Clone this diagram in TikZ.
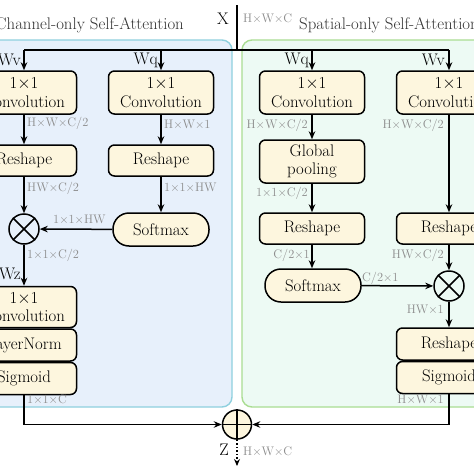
\documentclass[tikz,border=0pt]{standalone}
\usetikzlibrary{arrows.meta}
\definecolor{boxfill}{HTML}{FDF6DE}
\definecolor{bluefill}{HTML}{E7F0FB}
\definecolor{blueedge}{HTML}{8FD0DE}
\definecolor{greenfill}{HTML}{EDFAF4}
\definecolor{greenedge}{HTML}{AADD92}
\definecolor{dimgray}{HTML}{8C8C8C}
\definecolor{titlegray}{HTML}{333333}
\begin{document}
\begin{tikzpicture}[x=1pt,y=-1pt,
  lw/.style={line width=1.5pt},
  box/.style={draw, lw, rounded corners=6pt, fill=boxfill, minimum width=105pt, inner sep=0pt, align=center, font=\fontsize{16.8}{18.5}\selectfont},
  pill/.style={box, rounded corners=16pt, minimum width=96pt, minimum height=33pt},
  dim/.style={text=dimgray, inner sep=0pt, font=\fontsize{12.4}{13}\selectfont},
  wlab/.style={inner sep=0pt, font=\fontsize{16.8}{18}\selectfont},
  ttl/.style={text=titlegray, inner sep=0pt, font=\fontsize{16.8}{18}\selectfont},
  opc/.style={draw, lw, circle, minimum size=30pt, inner sep=0pt},
  arr/.style={lw, -{Stealth[length=8pt,width=6.5pt]}}
]
\useasboundingbox (0,0) rectangle (474,474);
\clip (0,0) rectangle (474,474);
\fill[white] (0,0) rectangle (474,474);

% panels
\draw[blueedge, line width=1.4pt, fill=bluefill, rounded corners=10pt] (-30,40) rectangle (232,407);
\draw[greenedge, line width=1.4pt, fill=greenfill, rounded corners=10pt] (242,40) rectangle (510,407);
\node[ttl, anchor=east] (t1) at (184,25) {Channel-only Self-Attention};
\node[ttl, anchor=west] (t2) at (299,25) {Spatial-only Self-Attention};

% input
\coordinate (xin) at (237,5);
\coordinate (xj) at (237,50);
\coordinate (jL) at (24,50);
\coordinate (jQ) at (161,50);
\coordinate (jQ2) at (312,50);
\coordinate (jR) at (449,50);
\node[wlab, anchor=east] (xl) at (229,19) {X};
\node[dim, anchor=west] (xd) at (243,19) {H$\times$W$\times$C};
\draw[lw] (xin) -- (xj);
\draw[lw] (jL) -- (jR);

% left panel
\node[box, minimum height=43pt] (cv1) at (24,92.5) {1$\times$1\\Convolution};
\node[box, minimum height=43pt] (cv2) at (161,92.5) {1$\times$1\\Convolution};
\node[box, minimum height=31pt] (rs1) at (24,160.5) {Reshape};
\node[box, minimum height=31pt] (rs2) at (161,160.5) {Reshape};
\node[opc] (ot1) at (24,229) {};
\draw[lw] (ot1.north east) -- (ot1.south west) (ot1.north west) -- (ot1.south east);
\node[pill] (sm1) at (161,229.5) {Softmax};
\node[box, minimum height=41pt] (cz) at (24,307) {1$\times$1\\Convolution};
\node[box, minimum height=32pt, anchor=north] (ln) at (cz.south) {LayerNorm};
\node[box, minimum height=32pt, anchor=north] (sg1) at (ln.south) {Sigmoid};

\node[wlab, anchor=east] (wv1) at (21,60) {Wv};
\node[wlab, anchor=east] (wq1) at (158,60) {Wq};
\node[wlab, anchor=east] (wz) at (21,274) {Wz};
\node[dim, anchor=west] (d1) at (27,123) {H$\times$W$\times$C/2};
\node[dim, anchor=west] (d2) at (164,125) {H$\times$W$\times$1};
\node[dim, anchor=west] (d3) at (27,188) {HW$\times$C/2};
\node[dim, anchor=west] (d4) at (164,188) {1$\times$1$\times$HW};
\node[dim, anchor=west] (d5) at (53,220) {1$\times$1$\times$HW};
\node[dim, anchor=west] (d6) at (27,255) {1$\times$1$\times$C/2};
\node[dim, anchor=west] (d7) at (27,400) {1$\times$1$\times$C};

\draw[arr] (jL) -- (cv1.north);
\draw[arr] (jQ) -- (cv2.north);
\draw[arr] (cv1) -- (rs1);
\draw[arr] (cv2) -- (rs2);
\draw[arr] (rs1) -- (ot1);
\draw[arr] (rs2) -- (sm1);
\draw[arr] (sm1) -- (ot1);
\draw[arr] (ot1) -- (cz);

% right panel
\node[box, minimum height=43pt] (cv3) at (312,92.5) {1$\times$1\\Convolution};
\node[box, minimum height=43pt] (cv4) at (449,92.5) {1$\times$1\\Convolution};
\node[box, minimum height=43pt] (gp) at (312,161.5) {Global\\pooling};
\node[box, minimum height=31pt] (rs3) at (312,228.5) {Reshape};
\node[box, minimum height=31pt] (rs4) at (449,228.5) {Reshape};
\node[pill] (sm2) at (313,285.5) {Softmax};
\node[opc] (ot2) at (449,286) {};
\draw[lw] (ot2.north east) -- (ot2.south west) (ot2.north west) -- (ot2.south east);
\node[box, minimum height=32pt] (rs5) at (449,344) {Reshape};
\node[box, minimum height=32pt, anchor=north] (sg2) at (rs5.south) {Sigmoid};

\node[wlab, anchor=east] (wq2) at (309,60) {Wq};
\node[wlab, anchor=east] (wv2) at (445,60) {Wv};
\node[dim, anchor=east] (e1) at (308,125) {H$\times$W$\times$C/2};
\node[dim, anchor=east] (e2) at (444,125) {H$\times$W$\times$C/2};
\node[dim, anchor=east] (e3) at (308,193) {1$\times$1$\times$C/2};
\node[dim, anchor=east] (e4) at (310,255) {C/2$\times$1};
\node[dim, anchor=west] (e5) at (362,278) {C/2$\times$1};
\node[dim, anchor=east] (e6) at (444,255) {HW$\times$C/2};
\node[dim, anchor=east] (e7) at (444,310) {HW$\times$1};
\node[dim, anchor=east] (e8) at (444,400) {H$\times$W$\times$1};

\draw[arr] (jQ2) -- (cv3.north);
\draw[arr] (jR) -- (cv4.north);
\draw[arr] (cv3) -- (gp);
\draw[arr] (gp) -- (rs3);
\draw[arr] (rs3) -- (sm2.north -| rs3);
\draw[arr] (cv4) -- (rs4);
\draw[arr] (rs4) -- (ot2);
\draw[arr] (sm2) -- (ot2);
\draw[arr] (ot2) -- (rs5);

% fusion
\node[opc, fill=boxfill, minimum size=29pt] (op) at (237,424.5) {};
\draw[lw] (op.north) -- (op.south) (op.west) -- (op.east);
\coordinate (cl) at (24,424.5);
\coordinate (cr) at (449,424.5);
\draw[arr] (sg1.south) -- (cl) -- (op.west);
\draw[arr] (sg2.south) -- (cr) -- (op.east);
\coordinate (zout) at (237,466);
\draw[lw, dotted, -{Stealth[length=7pt,width=6pt]}] (op.south) -- (zout);
\node[wlab, anchor=east] (zl) at (229,450) {Z};
\node[dim, anchor=west] (zd) at (243,452) {H$\times$W$\times$C};
\end{tikzpicture}
\end{document}
